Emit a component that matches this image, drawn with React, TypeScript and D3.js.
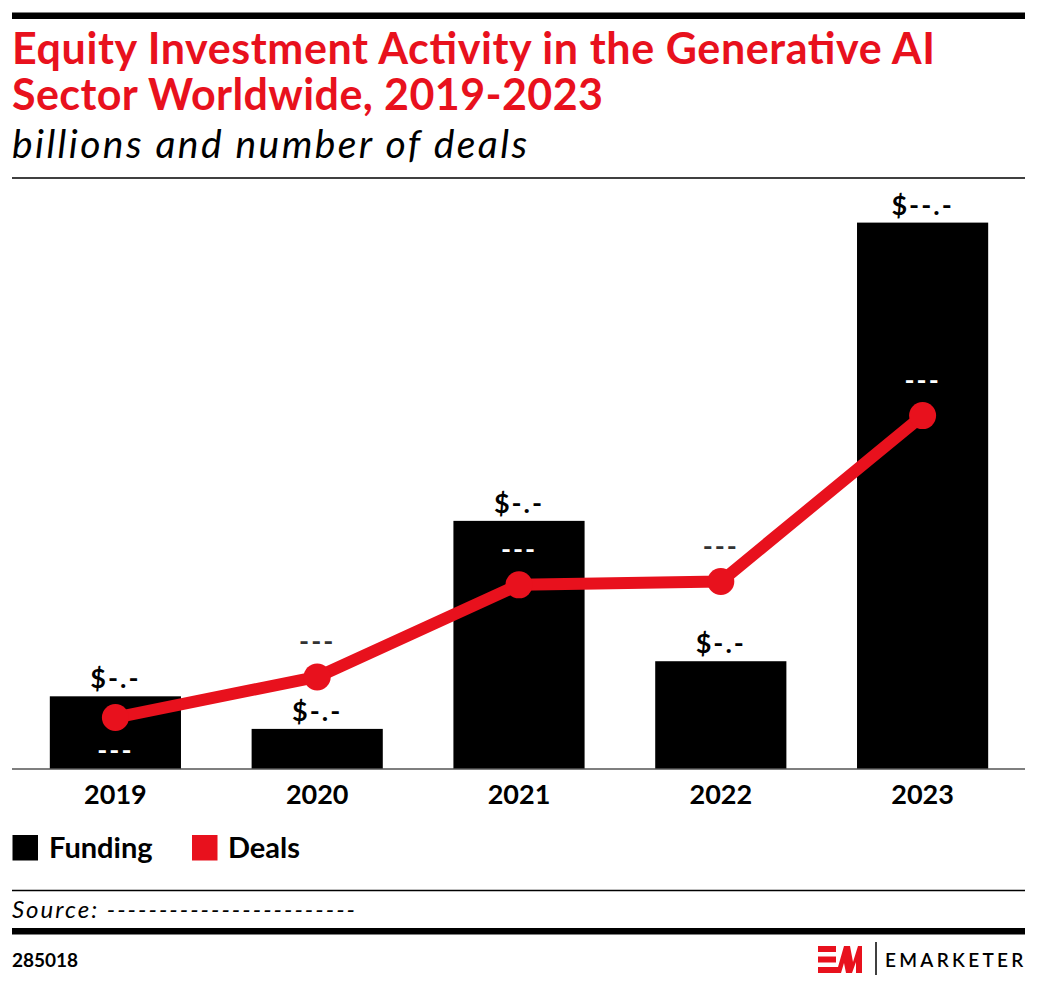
import * as d3 from 'd3';
import { FC } from 'react';

const years = ['2019', '2020', '2021', '2022', '2023'];
const funding = [2.9, 1.6, 9.9, 4.3, 21.8];
const deals = [62, 111, 222, 226, 426];
const fundingLabels = ['$-.-', '$-.-', '$-.-', '$-.-', '$--.-'];
const dealLabels = ['---', '---', '---', '---', '---'];

const RED = '#e8111d';
const FONT = 'Lato, "Open Sans", sans-serif';

const W = 1038;
const H = 989;
const baseY = 769;
const topY = 180;

const App: FC = () => {
  const x = d3.scaleBand<string>().domain(years).range([14.5, 1023.5]).paddingInner(0.35).paddingOuter(0.175);
  const yFund = d3.scaleLinear().domain([0, 23.5]).range([baseY, topY]);
  const yDeals = d3.scaleLinear().domain([0, 710]).range([baseY, topY]);

  const cx = (d: string) => x(d)! + x.bandwidth() / 2;
  const line = d3
    .line<number>()
    .x((_, i) => cx(years[i]))
    .y((d) => yDeals(d));

  return (
    <div style={{ position: 'absolute', left: 0, top: 0 }}>
      <svg width={W} height={H} style={{ display: 'block', background: '#fff' }}>
        <rect x={12} y={12.5} width={1013} height={6.5} fill="#000" />
        <text x={12} y={64} fontFamily={FONT} fontWeight={700} fontSize={43} fill={RED} textLength={923} lengthAdjust="spacing">
          Equity Investment Activity in the Generative AI
        </text>
        <text x={12} y={110} fontFamily={FONT} fontWeight={700} fontSize={43} fill={RED} textLength={591} lengthAdjust="spacing">
          Sector Worldwide, 2019-2023
        </text>
        <text x={12} y={158} fontFamily={FONT} fontStyle="italic" fontSize={39} fill="#000" textLength={515} lengthAdjust="spacing">
          billions and number of deals
        </text>
        <line x1={12} x2={1025} y1={178} y2={178} stroke="#000" strokeWidth={1.5} />

        {years.map((yr, i) => (
          <rect
            key={yr}
            x={x(yr)}
            y={yFund(funding[i])}
            width={x.bandwidth()}
            height={baseY - yFund(funding[i])}
            fill="#000"
          />
        ))}
        <line x1={12} x2={1025} y1={baseY} y2={baseY} stroke="#555" strokeWidth={1.5} />

        {years.map((yr, i) => (
          <text
            key={yr}
            x={cx(yr)}
            y={yFund(funding[i]) - 8}
            textAnchor="middle"
            fontFamily={FONT}
            fontWeight={700}
            fontSize={27}
            letterSpacing={2}
            fill="#000"
          >
            {fundingLabels[i]}
          </text>
        ))}

        <path d={line(deals) ?? ''} fill="none" stroke={RED} strokeWidth={12} strokeLinejoin="round" />
        {years.map((yr, i) => (
          <circle key={yr} cx={cx(yr)} cy={yDeals(deals[i])} r={13.5} fill={RED} />
        ))}
        {years.map((yr, i) => {
          const py = yDeals(deals[i]);
          const below = i === 0;
          const ly = below ? py + 42 : py - 26;
          const inside = ly - 8 > yFund(funding[i]);
          return (
            <text
              key={yr}
              x={cx(yr)}
              y={ly}
              textAnchor="middle"
              fontFamily={FONT}
              fontWeight={700}
              fontSize={27}
              letterSpacing={2}
              fill={inside ? '#fff' : '#333'}
            >
              {dealLabels[i]}
            </text>
          );
        })}

        {years.map((yr) => (
          <text
            key={yr}
            x={cx(yr)}
            y={804}
            textAnchor="middle"
            fontFamily={FONT}
            fontWeight={700}
            fontSize={27}
            fill="#000"
          >
            {yr}
          </text>
        ))}

        <rect x={12.5} y={835} width={25.5} height={25.5} fill="#000" />
        <text x={49} y={858} fontFamily={FONT} fontWeight={700} fontSize={29} fill="#000">
          Funding
        </text>
        <rect x={192} y={835} width={25.5} height={25.5} fill={RED} />
        <text x={228} y={858} fontFamily={FONT} fontWeight={700} fontSize={29} fill="#000">
          Deals
        </text>

        <line x1={12} x2={1025} y1={890.5} y2={890.5} stroke="#000" strokeWidth={1.5} />
        <text x={12} y={918} fontFamily={FONT} fontStyle="italic" fontSize={24} fill="#000" textLength={343} lengthAdjust="spacing">
          Source: ------------------------
        </text>
        <rect x={12} y={928} width={1013} height={6.5} fill="#000" />
        <text x={12} y={967} fontFamily={FONT} fontWeight={700} fontSize={19} fill="#000">
          285018
        </text>

        <g fill={RED}>
          <path d="M818,946 L836,946 L836,952 L818,952 Z" />
          <path d="M818,956.5 L836,956.5 L836,962.5 L818,962.5 Z" />
          <path d="M818,967 L838,967 L844,946 L850,946 L853,962 L858,946 L862,946 L862,973 L856,973 L856,962 L852,973 L846,973 L844,963 L841,973 L818,973 Z" />
        </g>
        <line x1={876} x2={876} y1={942} y2={975} stroke="#000" strokeWidth={1.5} />
        <text x={885} y={967} fontFamily={FONT} fontWeight={600} fontSize={19} letterSpacing={3.3} fill="#000">
          EMARKETER
        </text>
      </svg>
    </div>
  );
};

export default App;
